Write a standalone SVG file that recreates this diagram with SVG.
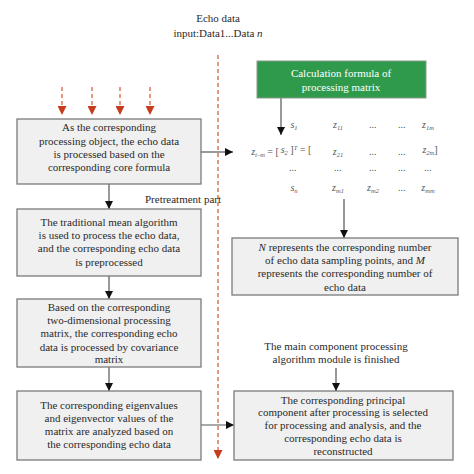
<svg xmlns="http://www.w3.org/2000/svg" width="474" height="474" viewBox="0 0 474 474">
<defs>
<style>
.t{font-family:"Liberation Serif","Times New Roman",serif;font-size:11px;fill:#2a2a2a;text-anchor:middle}
.m{font-family:"Liberation Serif","Times New Roman",serif;font-size:10px;fill:#555;font-style:italic;text-anchor:middle}
.box{fill:#f0f0f0;stroke:#7a7a7a;stroke-width:1.3}
.ln{stroke:#555;stroke-width:1.2;fill:none}
.rd{stroke:#d2552e;stroke-width:1.2;stroke-dasharray:4 3;fill:none}
</style>
<marker id="ah" viewBox="0 0 10 10" refX="10" refY="5" markerWidth="8" markerHeight="8" markerUnits="userSpaceOnUse" orient="auto"><path d="M0,0L10,5L0,10z" fill="#111"/></marker>
<marker id="rh" viewBox="0 0 10 10" refX="10" refY="5" markerWidth="9" markerHeight="9" markerUnits="userSpaceOnUse" orient="auto"><path d="M0,0L10,5L0,10z" fill="#c83c1e"/></marker>
</defs>
<rect width="474" height="474" fill="#fff"/>
<g id="title">
<text class="t" x="218" y="22">Echo data</text>
<text class="t" x="218" y="37">input:Data1...Data <tspan font-style="italic">n</tspan></text>
</g>
<g id="connectors">
<line class="rd" x1="218" y1="55" x2="218" y2="459" marker-end="url(#rh)"/>
<line class="rd" x1="62" y1="87" x2="62" y2="115" marker-end="url(#rh)"/>
<line class="rd" x1="92" y1="87" x2="92" y2="115" marker-end="url(#rh)"/>
<line class="rd" x1="120" y1="87" x2="120" y2="115" marker-end="url(#rh)"/>
<line class="rd" x1="150" y1="87" x2="150" y2="115" marker-end="url(#rh)"/>
<line class="ln" x1="201" y1="152" x2="233" y2="152" marker-end="url(#ah)"/>
<line class="ln" x1="109" y1="184" x2="109" y2="209" marker-end="url(#ah)"/>
<line class="ln" x1="109" y1="276" x2="109" y2="299" marker-end="url(#ah)"/>
<line class="ln" x1="109" y1="367" x2="109" y2="391" marker-end="url(#ah)"/>
<line class="ln" x1="201" y1="425" x2="234" y2="425" marker-end="url(#ah)"/>
<line class="ln" x1="281" y1="98" x2="281" y2="135" marker-end="url(#ah)"/>
<line class="ln" x1="344" y1="199" x2="344" y2="238" marker-end="url(#ah)"/>
<line class="ln" x1="336" y1="368" x2="336" y2="391" marker-end="url(#ah)"/>
</g>
<g id="box1">
<rect class="box" x="17" y="119" width="184" height="65"/>
<text class="t" x="109" y="131">As the corresponding</text>
<text class="t" x="109" y="145">processing object, the echo data</text>
<text class="t" x="109" y="158">is processed based on the</text>
<text class="t" x="109" y="171">corresponding core formula</text>
</g>
<g id="pretreatment">
<text class="t" x="183" y="203">Pretreatment part</text>
</g>
<g id="box2">
<rect class="box" x="17" y="209" width="184" height="67"/>
<text class="t" x="109" y="226">The traditional mean algorithm</text>
<text class="t" x="109" y="239">is used to process the echo data,</text>
<text class="t" x="109" y="252">and the corresponding echo data</text>
<text class="t" x="109" y="266">is preprocessed</text>
</g>
<g id="box3">
<rect class="box" x="17" y="299" width="184" height="68"/>
<text class="t" x="109" y="311">Based on the corresponding</text>
<text class="t" x="109" y="324">two-dimensional processing</text>
<text class="t" x="109" y="337">matrix, the corresponding echo</text>
<text class="t" x="109" y="351">data is processed by covariance</text>
<text class="t" x="109" y="363">matrix</text>
</g>
<g id="box4">
<rect class="box" x="17" y="391" width="184" height="69"/>
<text class="t" x="109" y="409">The corresponding eigenvalues</text>
<text class="t" x="109" y="422">and eigenvector values of the</text>
<text class="t" x="109" y="435">matrix are analyzed based on</text>
<text class="t" x="109" y="448">the corresponding echo data</text>
</g>
<g id="green">
<rect x="257" y="61" width="169" height="37" fill="#2f9a4c" stroke="#8a9a8a" stroke-width="1"/>
<text class="t" x="341" y="77" style="fill:#fff">Calculation formula of</text>
<text class="t" x="341" y="91" style="fill:#fff">processing matrix</text>
</g>
<g id="matrix">
<text class="m" x="294" y="128">s<tspan font-size="6.5" dy="2">1</tspan></text>
<text class="m" x="338" y="128">z<tspan font-size="6.5" dy="2">11</tspan></text>
<text class="m" x="373" y="128">...</text>
<text class="m" x="402" y="128">...</text>
<text class="m" x="428" y="128">z<tspan font-size="6.5" dy="2">1m</tspan></text>
<text class="m" x="265" y="155">z<tspan font-size="6.5" dy="2">i–m</tspan><tspan dy="-2" font-style="normal"> = [</tspan></text>
<text class="m" x="296" y="153">s<tspan font-size="6.5" dy="2">2</tspan><tspan dy="-2" font-style="normal"> ]</tspan><tspan font-size="6.5" dy="-3">T</tspan><tspan font-style="normal" dy="3"> = [</tspan></text>
<text class="m" x="338" y="155">z<tspan font-size="6.5" dy="2">21</tspan></text>
<text class="m" x="373" y="155">...</text>
<text class="m" x="402" y="155">...</text>
<text class="m" x="430" y="153">z<tspan font-size="6.5" dy="2">2m</tspan><tspan font-style="normal" dy="-2">]</tspan></text>
<text class="m" x="293" y="171">...</text>
<text class="m" x="338" y="171">...</text>
<text class="m" x="373" y="171">...</text>
<text class="m" x="402" y="171">...</text>
<text class="m" x="428" y="171">...</text>
<text class="m" x="294" y="191">s<tspan font-size="6.5" dy="2">n</tspan></text>
<text class="m" x="338" y="191">z<tspan font-size="6.5" dy="2">m1</tspan></text>
<text class="m" x="373" y="191">z<tspan font-size="6.5" dy="2">m2</tspan></text>
<text class="m" x="402" y="191">...</text>
<text class="m" x="428" y="191">z<tspan font-size="6.5" dy="2">mm</tspan></text>
</g>
<g id="boxN">
<rect class="box" x="232" y="238" width="226" height="57"/>
<text class="t" x="345" y="251"><tspan font-style="italic">N</tspan> represents the corresponding number</text>
<text class="t" x="345" y="264">of echo data sampling points, and <tspan font-style="italic">M</tspan></text>
<text class="t" x="345" y="277">represents the corresponding number of</text>
<text class="t" x="345" y="291">echo data</text>
</g>
<g id="finished">
<text class="t" x="336" y="350">The main component processing</text>
<text class="t" x="336" y="363">algorithm module is finished</text>
</g>
<g id="box5">
<rect class="box" x="234" y="391" width="219" height="69"/>
<text class="t" x="343" y="404">The corresponding principal</text>
<text class="t" x="343" y="416">component after processing is selected</text>
<text class="t" x="343" y="429">for processing and analysis, and the</text>
<text class="t" x="343" y="442">corresponding echo data is</text>
<text class="t" x="343" y="455">reconstructed</text>
</g>
</svg>
